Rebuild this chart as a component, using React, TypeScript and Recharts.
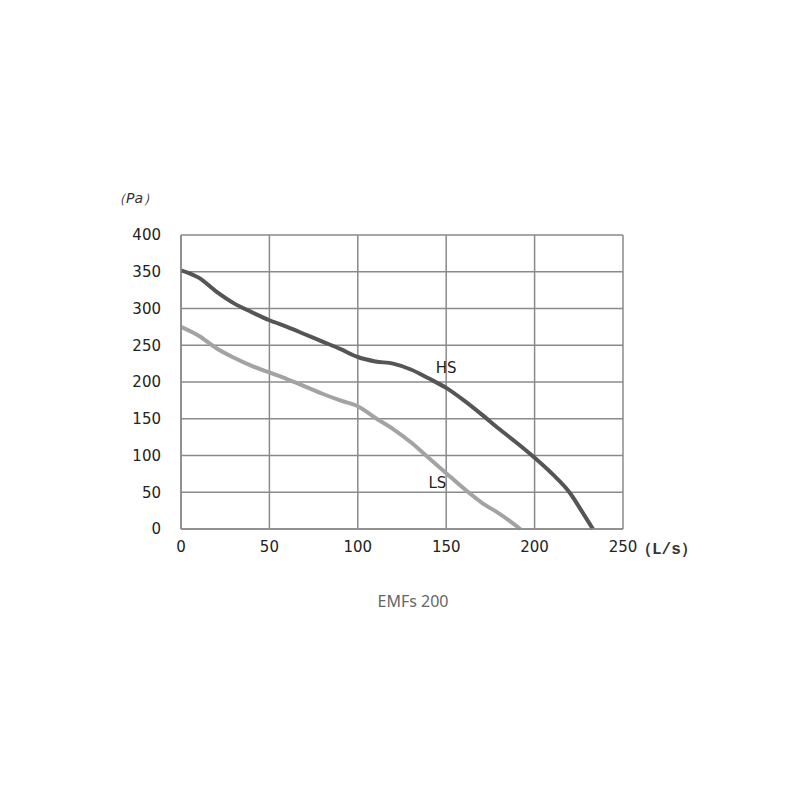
import React from 'react';
import { LineChart, Line, XAxis, YAxis, CartesianGrid, ReferenceDot } from 'recharts';

// airflow (L/s) vs pressure (Pa)
const hsFlow = [0, 10, 20, 30, 40, 50, 60, 70, 80, 90, 100, 110, 120, 130, 140, 150, 160, 170, 180, 190, 200, 210, 220, 227, 233];
const hsPressure = [352, 342, 323, 307, 295, 284, 275, 265, 255, 245, 234, 228, 225, 217, 205, 192, 175, 156, 136, 117, 97, 75, 49, 23, 0];

const lsFlow = [0, 10, 20, 30, 40, 50, 60, 70, 80, 90, 100, 110, 120, 130, 140, 150, 160, 170, 180, 192];
const lsPressure = [275, 263, 246, 233, 222, 213, 204, 194, 184, 175, 167, 151, 136, 118, 97, 76, 55, 36, 21, 0];

const xTicks = [0, 50, 100, 150, 200, 250];
const yTicks = [0, 50, 100, 150, 200, 250, 300, 350, 400];

const hsData = hsFlow.map((q, i) => ({ q, p: hsPressure[i] }));
const lsData = lsFlow.map((q, i) => ({ q, p: lsPressure[i] }));

const tickStyle = { fill: '#222', fontSize: 15, fontFamily: 'DejaVu Sans' };

export default function App() {
  return (
    <div style={{ position: 'absolute', left: 0, top: 0, width: 800, height: 800, background: '#fff' }}>
      <LineChart width={800} height={800} margin={{ top: 235, right: 177, left: 141, bottom: 241 }}>
        <CartesianGrid stroke="#8a8a8a" strokeWidth={1.5} />
        <XAxis
          type="number"
          dataKey="q"
          domain={[0, 250]}
          ticks={xTicks}
          height={30}
          axisLine={{ stroke: '#8a8a8a', strokeWidth: 1.5 }}
          tickLine={false}
          tickSize={0}
          tickMargin={12}
          tick={tickStyle}
          allowDuplicatedCategory={false}
        />
        <YAxis
          type="number"
          dataKey="p"
          domain={[0, 400]}
          ticks={yTicks}
          width={40}
          axisLine={{ stroke: '#8a8a8a', strokeWidth: 1.5 }}
          tickLine={false}
          tickSize={0}
          tickMargin={20}
          tick={tickStyle}
        />
        <Line
          data={lsData}
          dataKey="p"
          type="monotone"
          stroke="#a3a3a3"
          strokeWidth={4}
          dot={false}
          isAnimationActive={false}
        />
        <Line
          data={hsData}
          dataKey="p"
          type="monotone"
          stroke="#555555"
          strokeWidth={4}
          dot={false}
          isAnimationActive={false}
        />
        <ReferenceDot
          x={150}
          y={220}
          r={0}
          label={{ value: 'HS', position: 'center', fill: '#222', fontSize: 15, fontFamily: 'DejaVu Sans' }}
        />
        <ReferenceDot
          x={145}
          y={63}
          r={0}
          label={{ value: 'LS', position: 'center', fill: '#222', fontSize: 15, fontFamily: 'DejaVu Sans' }}
        />
      </LineChart>
      <div style={{ position: 'absolute', left: 112, top: 190, fontFamily: 'DejaVu Sans', fontStyle: 'italic', fontSize: 14, color: '#333' }}>
        （Pa）
      </div>
      <div style={{ position: 'absolute', left: 636, top: 539, fontFamily: 'Liberation Mono', fontWeight: 'bold', fontSize: 16, color: '#333' }}>
        （L/s）
      </div>
      <div style={{ position: 'absolute', left: 0, width: 826, top: 590, textAlign: 'center', fontFamily: 'Noto Sans', fontSize: 16, color: '#666' }}>
        EMFs 200
      </div>
    </div>
  );
}
